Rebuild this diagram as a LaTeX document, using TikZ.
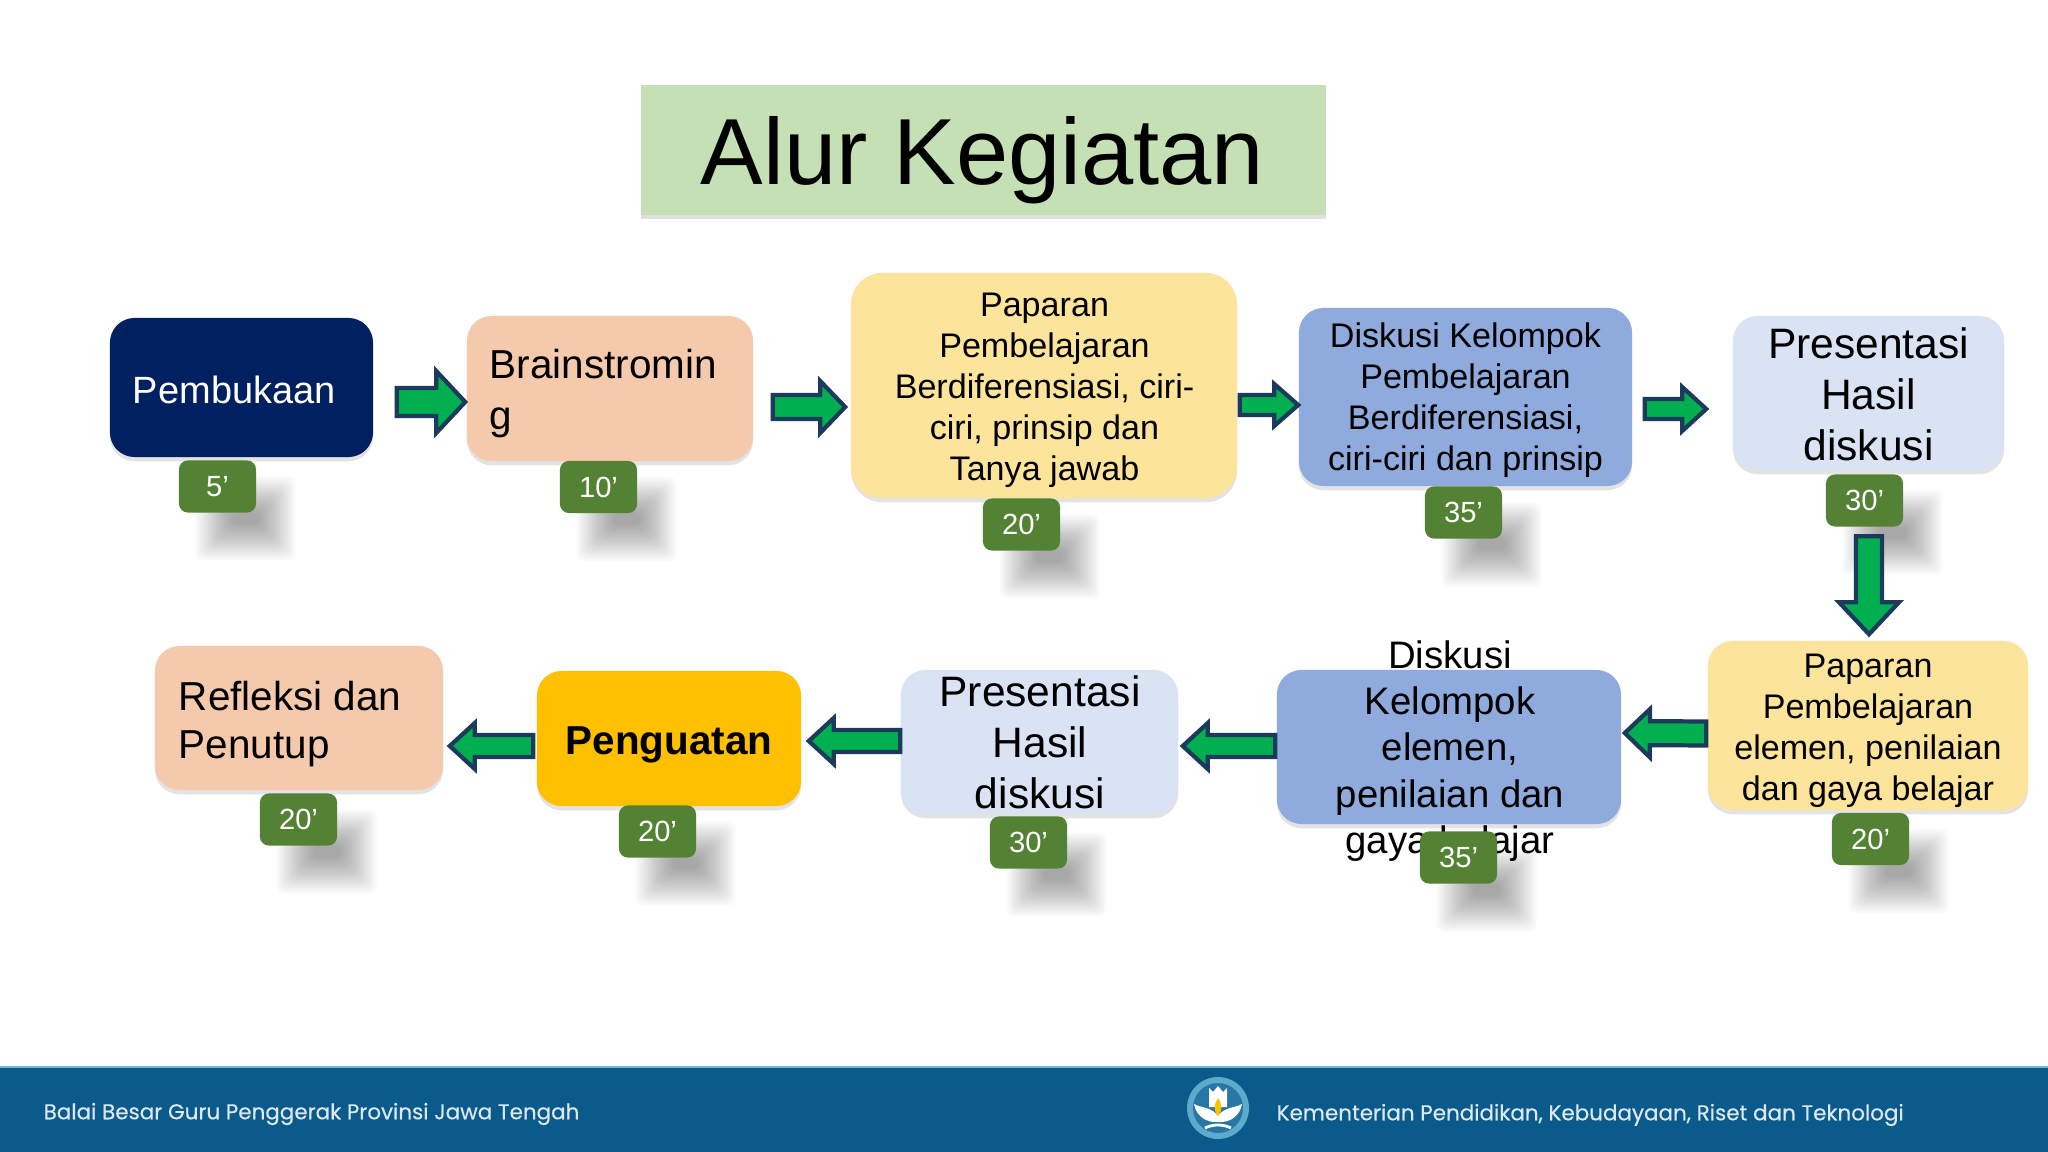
\documentclass[tikz,border=0pt]{standalone}
\usepackage{fontspec}
\setmainfont{Liberation Sans}
\newfontfamily\footerfont[FakeBold=0.4]{Poppins}
\usetikzlibrary{calc,shadows}
\definecolor{navybox}{HTML}{002060}
\definecolor{peachbox}{HTML}{F5C9AB}
\definecolor{yellowbox}{HTML}{FDE49B}
\definecolor{bluebox}{HTML}{8FAADC}
\definecolor{paleblue}{HTML}{DAE3F3}
\definecolor{orangebox}{HTML}{FFC000}
\definecolor{badgegreen}{HTML}{548235}
\definecolor{titlegreen}{HTML}{C5E0B4}
\definecolor{arrowgreen}{HTML}{00B050}
\definecolor{arrowline}{HTML}{1B3A5C}
\definecolor{footerblue}{HTML}{0A5A8C}
\definecolor{footerline}{HTML}{6BB8D8}
\definecolor{footertext}{HTML}{DCE8F0}
\tikzset{
	stagebox/.style={rounded corners=7pt,inner sep=0pt,drop shadow={shadow xshift=0pt,shadow yshift=-1.2pt,opacity=.22}},
	stagetext/.style={align=center,inner sep=0pt},
	smalltext/.style={stagetext,font=\fontsize{9.7}{11.7}\selectfont},
	midtext/.style={stagetext,font=\fontsize{10.9}{13.2}\selectfont},
	bigtext/.style={stagetext,font=\fontsize{12.1}{14.5}\selectfont},
	badge/.style={fill=badgegreen,text=white,rounded corners=2.5pt,minimum width=.77cm,minimum height=.52cm,inner sep=0pt,font=\fontsize{8.3}{10}\selectfont},
	badgeblur/.style={black,opacity=.02},
	footerlabel/.style={text=footertext,inner sep=0pt,anchor=west,font=\footerfont\fontsize{6.1}{7}\selectfont},
	blockarrow/.style n args={3}{draw=arrowline,fill=arrowgreen,line width=1.2pt,miter limit=4,
		to path={($(\tikztostart)!#1*0.01cm!90:(\tikztotarget)$)
			-- ($(\tikztotarget)!#3*0.01cm!(\tikztostart)!#1*0.01cm!90:(\tikztotarget)$)
			-- ($(\tikztotarget)!#3*0.01cm!(\tikztostart)!#2*0.01cm!90:(\tikztotarget)$)
			-- (\tikztotarget)
			-- ($(\tikztotarget)!#3*0.01cm!(\tikztostart)!#2*0.01cm!-90:(\tikztotarget)$)
			-- ($(\tikztotarget)!#3*0.01cm!(\tikztostart)!#1*0.01cm!-90:(\tikztotarget)$)
			-- ($(\tikztostart)!#1*0.01cm!-90:(\tikztotarget)$) -- cycle}}
}
\newcommand{\Badge}[4]{
	\foreach \d in {0,2,...,36}
		\fill[badgeblur,rounded corners=2pt] ({#2+28-14-\d},{#3+32-6-\d}) rectangle ({#2+28+14+\d},{#3+32+6+\d});
	\node[badge] (#1) at (#2,#3) {#4};
}
\begin{document}
\begin{tikzpicture}[x=0.01cm,y=-0.01cm]
	\useasboundingbox (0,0) rectangle (2048,1152);
	\fill[white] (0,0) rectangle (2048,1152);
	\node[fill=titlegreen,minimum width=6.85cm,minimum height=1.3cm,inner sep=0pt,drop shadow={shadow xshift=0pt,shadow yshift=-1pt,opacity=.25}] (title) at (983.5,150) {};
	\node[inner sep=0pt,font=\fontsize{26.7}{30}\selectfont] (titletext) at (982.5,160) {Alur Kegiatan};

	\node[stagebox,fill=navybox,minimum width=2.63cm,minimum height=1.39cm] (pembukaan) at (241.5,387.5) {};
	\node[stagebox,fill=peachbox,minimum width=2.86cm,minimum height=1.45cm] (brainstroming) at (610,388.5) {};
	\node[stagebox,fill=yellowbox,minimum width=3.86cm,minimum height=2.25cm,rounded corners=9pt] (paparanA) at (1044,385.5) {};
	\node[stagebox,fill=bluebox,minimum width=3.33cm,minimum height=1.78cm] (diskusiA) at (1465.5,397) {};
	\node[stagebox,fill=paleblue,minimum width=2.71cm,minimum height=1.54cm] (presentasiA) at (1868.5,393) {};
	\node[stagebox,fill=yellowbox,minimum width=3.2cm,minimum height=1.69cm] (paparanB) at (1868,725.5) {};
	\node[stagebox,fill=bluebox,minimum width=3.44cm,minimum height=1.54cm] (diskusiB) at (1449,747) {};
	\node[stagebox,fill=paleblue,minimum width=2.77cm,minimum height=1.44cm] (presentasiB) at (1039.5,742) {};
	\node[stagebox,fill=orangebox,minimum width=2.64cm,minimum height=1.35cm] (penguatan) at (669,738.5) {};
	\node[stagebox,fill=peachbox,minimum width=2.88cm,minimum height=1.44cm] (refleksi) at (299,718) {};

	\node[inner sep=0pt,text=white,anchor=west,font=\fontsize{10.8}{13}\selectfont] (pembukaantext) at ($(pembukaan.west)+(23,2)$) {Pembukaan};
	\node[stagetext,align=left,anchor=west,font=\fontsize{11.5}{14.5}\selectfont] (brainstromingtext) at ($(brainstroming.west)+(23,5)$) {Brainstromin\\g};
	\node[smalltext] (paparanAtext) at (1044.5,390.5) {Paparan\\Pembelajaran\\Berdiferensiasi, ciri-\\ciri, prinsip dan\\Tanya jawab};
	\node[smalltext] (diskusiAtext) at (1465.5,400) {Diskusi Kelompok\\Pembelajaran\\Berdiferensiasi,\\ciri-ciri dan prinsip};
	\node[bigtext] (presentasiAtext) at (1868.5,394) {Presentasi\\Hasil\\diskusi};
	\node[smalltext] (paparanBtext) at (1868,731) {Paparan\\Pembelajaran\\elemen, penilaian\\dan gaya belajar};
	\node[midtext] (diskusiBtext) at (1450,751) {Diskusi\\Kelompok\\elemen,\\penilaian dan\\gaya belajar};
	\node[bigtext] (presentasiBtext) at (1040,742.5) {Presentasi\\Hasil\\diskusi};
	\node[inner sep=0pt,font=\bfseries\fontsize{11.5}{13.5}\selectfont] (penguatantext) at (669,745) {Penguatan};
	\node[stagetext,align=left,anchor=west,font=\fontsize{11.5}{13.8}\selectfont] (refleksitext) at ($(refleksi.west)+(24,6)$) {Refleksi dan\\Penutup};

	\Badge{badgeA}{217.5}{486.5}{5’}
	\Badge{badgeB}{598.5}{487}{10’}
	\Badge{badgeC}{1021.5}{524.5}{20’}
	\Badge{badgeD}{1463.5}{512.5}{35’}
	\Badge{badgeE}{1864.5}{500.5}{30’}
	\Badge{badgeF}{1870.5}{839}{20’}
	\Badge{badgeG}{1458.5}{857.5}{35’}
	\Badge{badgeH}{1028.5}{842.5}{30’}
	\Badge{badgeI}{657.5}{831.5}{20’}
	\Badge{badgeJ}{298.5}{819.5}{20’}

	\draw[blockarrow={14}{31}{29}] ($(pembukaan.east)+(23,14.5)$) to ($(brainstroming.west)+(-1,13.5)$);
	\draw[blockarrow={12}{26}{25}] ($(brainstroming.east)+(19,18.5)$) to ($(paparanA.west)+(-5,21.5)$);
	\draw[blockarrow={10}{21}{24}] ($(paparanA.east)+(2,19.5)$) to ($(diskusiA.west)+(0,8)$);
	\draw[blockarrow={10}{22}{24}] ($(diskusiA.east)+(12,12)$) to ($(presentasiA.west)+(-26,16)$);
	\draw[blockarrow={13}{30}{32}] ($(badgeE.south)+(4.5,9)$) to ($(paparanB.north)+(1,-6)$);
	\draw[blockarrow={12}{24}{25}] ($(paparanB.west)+(-1,8)$) to ($(diskusiB.east)+(3,-14)$);
	\draw[blockarrow={11}{23}{25}] ($(diskusiB.west)+(-1,-1)$) to ($(presentasiB.east)+(4,4)$);
	\draw[blockarrow={11}{23}{25}] ($(presentasiB.west)+(0,-1)$) to ($(penguatan.east)+(7,2.5)$);
	\draw[blockarrow={11}{23}{25}] ($(penguatan.west)+(-3,7.5)$) to ($(refleksi.east)+(6,28)$);

	\fill[footerblue] (0,1067) rectangle (2048,1152);
	\draw[footerline,line width=.6pt] (0,1067) -- (2048,1067);
	\node[footerlabel] (footerleft) at (43,1114) {Balai Besar Guru Penggerak Provinsi Jawa Tengah};
	\node[footerlabel] (footerright) at (1276,1115) {Kementerian Pendidikan, Kebudayaan, Riset dan Teknologi};

	\fill[footerline!85!footerblue] (1218,1108) circle [radius=31];
	\fill[footerblue!70!footerline] (1218,1108) circle [radius=25];
	\fill[white] (1209,1107) -- (1209,1088) -- (1213,1092) -- (1218,1086) -- (1223,1092) -- (1227,1088) -- (1227,1107) -- cycle;
	\fill[white] (1218,1122) .. controls (1205,1123) and (1196,1115) .. (1194,1104) .. controls (1201,1108) and (1212,1107) .. (1218,1116) .. controls (1224,1107) and (1235,1108) .. (1242,1104) .. controls (1240,1115) and (1231,1123) .. (1218,1122) -- cycle;
	\fill[orangebox] (1218,1116) .. controls (1213,1110) and (1214,1104) .. (1218,1098) .. controls (1222,1104) and (1223,1110) .. (1218,1116) -- cycle;
	\draw[white,line width=.8pt] (1205,1128) .. controls (1213,1124) and (1223,1124) .. (1231,1128);
\end{tikzpicture}
\end{document}
